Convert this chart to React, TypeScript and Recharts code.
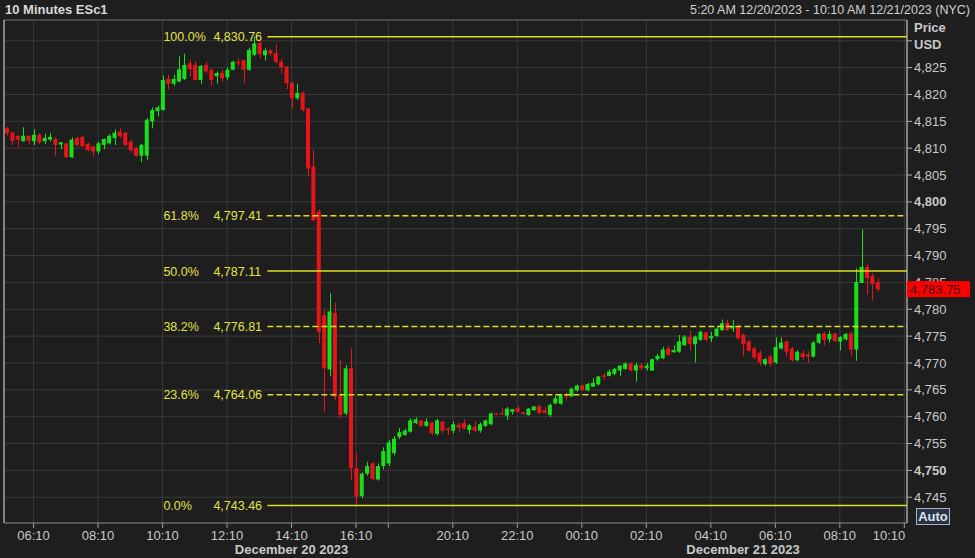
import { ComposedChart, Bar, XAxis, YAxis, CartesianGrid, ReferenceLine } from "recharts";

const FONT = "'Liberation Sans', Arial, sans-serif";
const BG = "#1e1e1e";
const GRID = "#3a3a3a";
const AXIS_TEXT = "#c8c8c8";
const GREEN = "#18e018";
const RED = "#e8141a";
const FIB = "#dede22";
const FIB_TEXT = "#e2e24a";

// trading sessions (day, first slot, last slot), 10 minute slots, 17:00-18:00 break
const sessions: [string, string, string][] = [
  ["20", "05:20", "16:50"],
  ["20", "18:00", "23:50"],
  ["21", "00:00", "10:10"],
];

const timeTicks = [
  "20 06:10", "20 08:10", "20 10:10", "20 12:10", "20 14:10", "20 16:10", "20 18:10",
  "20 20:10", "20 22:10", "21 00:10", "21 02:10", "21 04:10", "21 06:10", "21 08:10", "21 10:10",
];
const hiddenTimeTicks = ["20 18:10"];
const dateTicks = ["20 14:10", "21 05:10"];
const dateLabels: Record<string, string> = {
  "20 14:10": "December 20 2023",
  "21 05:10": "December 21 2023",
};

const priceTicks = [4745, 4750, 4755, 4760, 4765, 4770, 4775, 4780, 4785, 4790, 4795, 4800, 4805, 4810, 4815, 4820, 4825, 4830];
const Y_MIN = 4740.2;
const Y_MAX = 4833.87;

const open = [
  4813.7, 4812.9, 4812.3, 4811.3, 4812.3, 4811.3, 4812.5, 4811.3, 4811.6, 4811.7,
  4810.7, 4810.9, 4808.3, 4811.9, 4812.1, 4810.8, 4810.3, 4809.4, 4810.6, 4810.9,
  4811.9, 4813.1, 4812.9, 4811.2, 4810.0, 4808.6, 4808.6, 4815.0, 4816.9, 4817.1,
  4822.9, 4822.0, 4822.4, 4822.9, 4825.8, 4825.5, 4822.7, 4825.5, 4824.6, 4823.4,
  4824.0, 4823.2, 4824.6, 4826.1, 4826.4, 4824.6, 4827.4, 4829.6, 4827.3, 4828.2,
  4827.7, 4826.1, 4825.2, 4822.2, 4819.3, 4820.3, 4817.4, 4806.6, 4798.2, 4778.9,
  4768.8, 4779.3, 4764.0, 4760.6, 4769.0, 4750.4, 4745.2, 4749.4, 4751.3, 4748.3,
  4750.8, 4751.3, 4753.2, 4756.2, 4756.6, 4757.2, 4758.8, 4759.3, 4758.3, 4758.9,
  4756.8, 4759.1, 4757.8, 4757.4, 4758.5, 4758.8, 4757.5, 4758.1, 4757.4, 4758.3,
  4758.6, 4760.6, 4760.6, 4760.2, 4760.9, 4761.6, 4760.8, 4760.3, 4761.2, 4762.0,
  4761.2, 4760.3, 4762.5, 4762.4, 4764.2, 4763.8, 4764.9, 4765.8, 4764.9, 4765.6,
  4766.0, 4767.7, 4767.6, 4768.0, 4768.6, 4768.9, 4769.9, 4768.6, 4769.6, 4769.0,
  4768.6, 4770.7, 4770.9, 4772.7, 4772.0, 4772.1, 4773.3, 4774.9, 4773.5, 4774.3,
  4775.7, 4774.6, 4775.0, 4776.1, 4777.5, 4776.4, 4776.9, 4775.2, 4774.0, 4772.7,
  4771.9, 4769.8, 4771.2, 4770.1, 4772.7, 4774.0, 4772.7, 4770.5, 4771.8, 4771.6,
  4771.2, 4773.8, 4775.5, 4774.4, 4775.5, 4774.0, 4774.4, 4775.5, 4772.5, 4784.9,
  4787.9, 4786.2, 4785.0,
];
const high = [
  4814.0, 4813.0, 4812.5, 4813.9, 4812.4, 4813.5, 4812.8, 4812.7, 4812.8, 4812.0,
  4811.1, 4811.0, 4812.0, 4812.2, 4812.3, 4811.0, 4810.4, 4811.2, 4811.8, 4812.6,
  4813.5, 4813.7, 4813.0, 4811.6, 4810.3, 4810.8, 4815.6, 4817.6, 4817.9, 4823.5,
  4823.7, 4823.7, 4827.1, 4827.6, 4826.5, 4826.2, 4825.5, 4826.1, 4824.8, 4824.3,
  4824.6, 4825.0, 4826.3, 4826.7, 4826.5, 4828.7, 4830.76, 4830.2, 4828.6, 4828.4,
  4829.3, 4826.7, 4825.3, 4822.3, 4822.0, 4820.6, 4817.5, 4809.7, 4798.6, 4779.9,
  4783.0, 4781.2, 4770.6, 4769.6, 4772.7, 4753.2, 4749.6, 4751.6, 4751.5, 4751.3,
  4754.3, 4755.7, 4756.4, 4757.9, 4757.8, 4759.7, 4759.9, 4759.4, 4759.7, 4759.0,
  4759.6, 4759.2, 4758.1, 4759.1, 4758.9, 4759.5, 4758.6, 4759.2, 4758.9, 4759.4,
  4760.8, 4760.7, 4761.6, 4761.8, 4761.4, 4762.0, 4760.9, 4761.6, 4762.0, 4762.2,
  4761.8, 4762.4, 4763.9, 4764.3, 4764.5, 4765.4, 4766.0, 4766.0, 4766.3, 4767.2,
  4767.6, 4768.1, 4768.8, 4769.1, 4769.6, 4770.1, 4770.1, 4770.0, 4770.0, 4770.0,
  4770.8, 4771.7, 4773.0, 4773.2, 4773.3, 4775.2, 4775.2, 4776.0, 4775.1, 4776.1,
  4775.8, 4775.8, 4776.8, 4778.1, 4778.0, 4778.0, 4777.3, 4775.5, 4774.3, 4773.0,
  4772.3, 4770.9, 4771.5, 4774.8, 4774.8, 4774.2, 4773.0, 4772.4, 4772.4, 4772.2,
  4774.1, 4775.6, 4775.8, 4776.0, 4775.6, 4775.0, 4775.6, 4775.8, 4787.6, 4794.9,
  4788.4, 4786.7, 4785.8,
];
const low = [
  4812.3, 4810.6, 4810.2, 4811.2, 4810.7, 4810.6, 4810.8, 4810.8, 4811.3, 4808.6,
  4809.8, 4808.2, 4808.2, 4810.3, 4810.2, 4809.4, 4808.4, 4808.9, 4809.8, 4810.7,
  4810.6, 4811.9, 4810.4, 4809.2, 4808.4, 4807.4, 4807.8, 4813.7, 4815.9, 4817.0,
  4820.9, 4821.6, 4822.3, 4822.7, 4823.4, 4822.6, 4822.0, 4824.0, 4821.7, 4822.0,
  4822.4, 4822.7, 4824.5, 4825.3, 4822.1, 4824.4, 4827.1, 4826.7, 4826.3, 4827.2,
  4825.8, 4823.9, 4821.0, 4817.4, 4819.0, 4816.8, 4804.7, 4796.3, 4773.7, 4760.9,
  4767.5, 4763.1, 4759.7, 4760.3, 4748.2, 4743.46, 4744.8, 4749.0, 4748.1, 4748.1,
  4750.2, 4750.8, 4752.8, 4755.8, 4756.4, 4757.0, 4758.6, 4758.1, 4758.1, 4756.6,
  4756.5, 4756.9, 4756.6, 4756.9, 4757.2, 4757.6, 4756.8, 4757.2, 4757.0, 4758.1,
  4758.4, 4760.3, 4760.3, 4759.4, 4760.4, 4760.8, 4760.4, 4760.2, 4761.1, 4760.5,
  4760.6, 4759.9, 4762.3, 4762.2, 4763.0, 4763.6, 4764.7, 4764.8, 4764.7, 4765.5,
  4765.8, 4766.8, 4767.5, 4767.7, 4767.6, 4768.7, 4768.4, 4766.5, 4768.6, 4768.6,
  4768.5, 4770.4, 4770.7, 4771.3, 4771.9, 4771.9, 4773.2, 4772.3, 4770.1, 4774.1,
  4774.1, 4773.9, 4774.9, 4776.0, 4776.0, 4775.8, 4774.4, 4771.2, 4772.1, 4770.7,
  4769.5, 4769.5, 4769.3, 4769.8, 4772.5, 4771.2, 4770.2, 4770.4, 4770.5, 4770.1,
  4771.0, 4773.5, 4773.2, 4773.8, 4774.0, 4772.3, 4774.2, 4771.3, 4770.4, 4784.9,
  4782.7, 4781.6, 4783.3,
];
const close = [
  4812.8, 4811.4, 4811.6, 4812.3, 4811.4, 4812.5, 4811.1, 4811.9, 4812.1, 4810.6,
  4811.1, 4808.3, 4811.6, 4810.6, 4810.4, 4809.6, 4809.4, 4810.9, 4811.7, 4812.3,
  4812.9, 4812.2, 4810.6, 4809.6, 4808.6, 4810.6, 4815.3, 4817.1, 4817.6, 4822.7,
  4822.0, 4822.9, 4824.7, 4825.5, 4824.7, 4822.7, 4825.3, 4824.3, 4822.7, 4824.0,
  4823.0, 4824.6, 4826.1, 4825.8, 4824.6, 4828.3, 4829.5, 4827.5, 4828.2, 4827.6,
  4826.1, 4825.1, 4822.1, 4819.3, 4820.3, 4817.1, 4806.2, 4796.6, 4775.8, 4769.0,
  4779.6, 4763.7, 4760.3, 4769.0, 4750.4, 4745.1, 4749.4, 4750.8, 4748.4, 4750.8,
  4753.6, 4755.2, 4755.9, 4757.1, 4757.4, 4759.3, 4759.5, 4758.3, 4759.1, 4756.9,
  4759.3, 4757.4, 4757.5, 4758.6, 4758.0, 4757.8, 4758.4, 4757.4, 4758.6, 4759.3,
  4760.6, 4760.4, 4760.4, 4761.5, 4761.4, 4760.9, 4760.5, 4761.5, 4761.9, 4760.7,
  4760.7, 4762.2, 4763.4, 4764.1, 4763.8, 4765.2, 4765.8, 4765.0, 4766.1, 4766.3,
  4767.5, 4767.4, 4768.4, 4768.9, 4769.5, 4769.9, 4768.6, 4769.6, 4769.0, 4769.5,
  4770.7, 4771.3, 4772.5, 4771.5, 4772.4, 4774.0, 4774.9, 4773.5, 4774.9, 4775.8,
  4774.3, 4775.0, 4776.4, 4777.4, 4776.1, 4776.9, 4774.6, 4773.5, 4772.3, 4771.0,
  4770.1, 4770.7, 4769.8, 4773.0, 4773.8, 4772.1, 4770.5, 4772.1, 4771.1, 4771.2,
  4773.8, 4775.4, 4774.3, 4775.4, 4774.1, 4774.8, 4775.4, 4772.5, 4785.1, 4787.9,
  4785.8, 4784.7, 4783.75,
];

const fibPct = ["100.0%", "61.8%", "50.0%", "38.2%", "23.6%", "0.0%"];
const fibValues = [4830.76, 4797.41, 4787.11, 4776.81, 4764.06, 4743.46];
const fibDashed = [false, true, false, true, true, false];
const fibStart = "20 13:20";
const lastPrice = 4783.75;

function pad(n: number) {
  return String(n).padStart(2, "0");
}
function toMin(t: string) {
  const [h, m] = t.split(":").map(Number);
  return h * 60 + m;
}

const slots: string[] = [];
for (const [day, from, to] of sessions) {
  for (let m = toMin(from); m <= toMin(to); m += 10) {
    slots.push(`${day} ${pad(Math.floor(m / 60))}:${pad(m % 60)}`);
  }
}

const data = slots.map((key, i) => ({
  key,
  open: open[i] ?? null,
  high: high[i] ?? null,
  low: low[i] ?? null,
  close: close[i] ?? null,
}));

const fmt0 = (v: number) => v.toLocaleString("en-US");
const fmt2 = (v: number) =>
  v.toLocaleString("en-US", { minimumFractionDigits: 2, maximumFractionDigits: 2 });

// eslint-disable-next-line @typescript-eslint/no-explicit-any
function Candle(props: any) {
  const { x, y, width, height, payload } = props;
  if (!payload || payload.open == null) return null;
  const { open: o, high: h, low: l, close: c } = payload;
  const color = c >= o ? GREEN : RED;
  const span = h - l || 1;
  const py = (v: number) => y + ((h - v) / span) * height;
  const top = py(Math.max(o, c));
  const bot = py(Math.min(o, c));
  const cx = Math.round(x + width / 2) + 0.5;
  return (
    <g>
      <line x1={cx} x2={cx} y1={y} y2={y + height} stroke={color} strokeWidth={1} />
      <rect x={x} y={top} width={width} height={Math.max(1, bot - top)} fill={color} />
    </g>
  );
}

// price labels; the last-price tag is the final tick so it is painted over "4,785"
// eslint-disable-next-line @typescript-eslint/no-explicit-any
function PriceTick({ x, y, payload }: any) {
  const v = payload.value as number;
  if (v === lastPrice) {
    return (
      <g>
        <rect x={x - 7} y={y - 8} width={63} height={16} fill="#ff0000" />
        <text x={x - 4} y={y} dy="0.36em" fill="#3a0000" fontFamily={FONT} fontSize={13}>
          {fmt2(v)}
        </text>
      </g>
    );
  }
  if (v === 4830) return null;
  const bold = v % 50 === 0;
  return (
    <text x={x} y={y} dy="0.35em" fill={AXIS_TEXT} fontFamily={FONT} fontSize={13} fontWeight={bold ? 700 : 400}>
      {fmt0(v)}
    </text>
  );
}

// eslint-disable-next-line @typescript-eslint/no-explicit-any
function TimeTick({ x, y, payload }: any) {
  const key = payload.value as string;
  if (hiddenTimeTicks.includes(key)) return null;
  const last = key === timeTicks[timeTicks.length - 1];
  return (
    <text x={last ? x + 1 : x} y={y} dy="0.71em" textAnchor={last ? "end" : "middle"} fill={AXIS_TEXT} fontFamily={FONT} fontSize={13}>
      {key.slice(3)}
    </text>
  );
}

// eslint-disable-next-line @typescript-eslint/no-explicit-any
function DateTick({ x, y, payload }: any) {
  return (
    <text x={x} y={y} dy="0.71em" textAnchor="middle" fill={AXIS_TEXT} fontFamily={FONT} fontSize={13} fontWeight={700}>
      {dateLabels[payload.value] ?? ""}
    </text>
  );
}

// eslint-disable-next-line @typescript-eslint/no-explicit-any
function FibLabel({ viewBox, pct, value }: any) {
  if (!viewBox) return null;
  const { x, y } = viewBox;
  return (
    <g fontFamily={FONT} fontSize={12.5} fill={FIB_TEXT}>
      <text x={x - 104} y={y} dy="0.36em">{pct}</text>
      <text x={x - 54} y={y} dy="0.36em">{fmt2(value)}</text>
    </g>
  );
}

export default function App() {
  const lastKey = slots[slots.length - 1];
  return (
    <div style={{ position: "absolute", left: 0, top: 0, width: 975, height: 558, background: BG, fontFamily: FONT, overflow: "hidden" }}>
      <div style={{ position: "absolute", left: 5, top: 2, fontSize: 13, fontWeight: 700, color: "#d8d8d8", lineHeight: "16px" }}>
        10 Minutes ESc1
      </div>
      <div style={{ position: "absolute", right: 5, top: 2, fontSize: 12.5, color: "#d0d0d0", lineHeight: "16px" }}>
        5:20 AM 12/20/2023 - 10:10 AM 12/21/2023 (NYC)
      </div>
      <div style={{ position: "absolute", left: 914, top: 19, fontSize: 13, fontWeight: 700, color: AXIS_TEXT, lineHeight: "17px" }}>
        Price
        <br />
        USD
      </div>
      <div
        style={{
          position: "absolute", left: 916, top: 508, width: 32, height: 15, border: "1px solid #aab4c4",
          background: "#2a3344", color: "#dde4f0", fontSize: 13, fontWeight: 700, lineHeight: "15px", textAlign: "center",
        }}
      >
        Auto
      </div>
      <div style={{ position: "absolute", left: 0, top: 0 }}>
        <ComposedChart width={975} height={558} data={data} margin={{ top: 20, right: 0, bottom: 0, left: 4 }}>
          <CartesianGrid stroke={GRID} strokeWidth={1} horizontalValues={priceTicks} />
          <XAxis
            dataKey="key"
            ticks={timeTicks}
            interval={0}
            height={20}
            tickSize={5}
            tickMargin={3}
            tick={<TimeTick />}
            axisLine={{ stroke: "#8a8a8a" }}
            tickLine={{ stroke: "#9a9a9a" }}
          />
          <XAxis
            xAxisId="date"
            dataKey="key"
            ticks={dateTicks}
            interval={0}
            height={15}
            tickSize={0}
            tickMargin={2}
            tick={<DateTick />}
            axisLine={false}
            tickLine={false}
          />
          <YAxis
            orientation="right"
            width={68}
            domain={[Y_MIN, Y_MAX]}
            ticks={[...priceTicks, lastPrice]}
            interval={0}
            allowDataOverflow
            tickSize={5}
            tickMargin={2}
            tick={<PriceTick />}
            axisLine={{ stroke: "#d8d8d8" }}
            tickLine={{ stroke: "#b0b0b0" }}
          />
          <ReferenceLine y={Y_MAX} stroke="#707070" />
          <ReferenceLine x={slots[0]} position="start" stroke="#d8d8d8" />
          {fibValues.map((v, k) => (
            <ReferenceLine
              key={fibPct[k]}
              segment={[{ x: fibStart, y: v }, { x: lastKey, y: v }]}
              position="end"
              stroke={FIB}
              strokeWidth={1.5}
              strokeDasharray={fibDashed[k] ? "6 3" : undefined}
              label={<FibLabel pct={fibPct[k]} value={v} />}
            />
          ))}
          <Bar
            dataKey={(d: { low: number | null; high: number | null }) => (d.low == null ? null : [d.low, d.high])}
            barSize={4}
            shape={<Candle />}
            isAnimationActive={false}
          />
        </ComposedChart>
      </div>
    </div>
  );
}
